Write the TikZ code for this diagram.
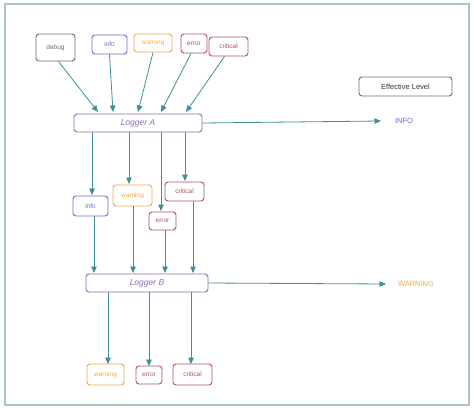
\documentclass[tikz,border=0pt]{standalone}
\usepackage{fontspec}
\setmainfont{Liberation Sans}
\usetikzlibrary{arrows.meta,calc}
\definecolor{arrc}{HTML}{3F8F99}
\definecolor{framec}{HTML}{A9C6CB}
\definecolor{greyc}{HTML}{6A6A6A}
\definecolor{infoc}{HTML}{6E6AD2}
\definecolor{warnc}{HTML}{F0AA45}
\definecolor{errc}{HTML}{B0506C}
\definecolor{logc}{HTML}{8C6CBA}
\definecolor{effc}{HTML}{55767C}
\begin{document}
\begin{tikzpicture}[x=1pt,y=-1pt,
 box/.style={draw, rounded corners=3pt, line width=0.9pt, inner sep=0pt, font=\fontsize{6.5}{8}\selectfont},
 dbg/.style={box, draw=greyc, text=greyc},
 inf/.style={box, draw=infoc, text=infoc},
 wrn/.style={box, draw=warnc, text=warnc},
 err/.style={box, draw=errc, text=errc},
 crit/.style={box, draw=errc, text=errc},
 lgr/.style={box, draw=logc, text=logc, font=\fontsize{8.5}{10}\selectfont\itshape},
 arr/.style={draw=arrc, line width=0.8pt, -{Triangle[length=6.5pt,width=5.5pt]}},
 lbl/.style={font=\fontsize{7.5}{9}\selectfont}]
\useasboundingbox (0,0) rectangle (474,412);
\draw[framec, line width=1.6pt] (5,4) rectangle (469,405);

% top level nodes
\node[dbg, minimum width=39pt, minimum height=27pt] (debug) at (55.5,47.5) {debug};
\node[inf, minimum width=35pt, minimum height=19pt] (info) at (109.5,44.5) {info};
\node[wrn, minimum width=38pt, minimum height=18pt] (warn) at (153,43) {warning};
\node[err, minimum width=26pt, minimum height=19pt] (err) at (194,43.5) {error};
\node[crit, minimum width=39pt, minimum height=19pt] (crit) at (228.5,46.5) {critical};

\node[lgr, minimum width=128pt, minimum height=18pt] (la) at (138,123) {Logger A};

\coordinate (a1) at (98,112);
\coordinate (a2) at (113,112);
\coordinate (a3) at (138,112);
\coordinate (a4) at (161,112);
\coordinate (a5) at (186,112);
\draw[arr] ($(debug.south)+(3,0)$) -- (a1);
\draw[arr] (info.south) -- (a2);
\draw[arr] (warn.south) -- (a3);
\draw[arr] ($(err.south)+(-3,0)$) -- (a4);
\draw[arr] ($(crit.south)+(-4,0)$) -- (a5);

% effective level
\node[box, draw=effc, text=black!80, font=\fontsize{7.5}{9}\selectfont, minimum width=93pt, minimum height=19pt] (eff) at (405.5,86.5) {Effective Level};

\coordinate (iA) at (381,121);
\draw[arr] (la.east) -- (iA);
\node[lbl, text=infoc] (infoA) at (404,121) {INFO};

% middle nodes
\node[inf, minimum width=35pt, minimum height=20pt] (info2) at (90.5,206) {info};
\node[wrn, minimum width=39pt, minimum height=21pt] (warn2) at (132.5,195.5) {warning};
\node[err, minimum width=27pt, minimum height=18pt] (err2) at (162.5,221) {error};
\node[crit, minimum width=39pt, minimum height=19pt] (crit2) at (184.5,191.5) {critical};

\coordinate (t1) at (92,195);
\coordinate (t2) at (129,184);
\coordinate (t3) at (161,211);
\coordinate (t4) at (185,181);
\draw[arr] (la.south -| t1) -- (t1);
\draw[arr] (la.south -| t2) -- (t2);
\draw[arr] (la.south -| t3) -- (t3);
\draw[arr] (la.south -| t4) -- (t4);

\node[lgr, minimum width=122pt, minimum height=18pt] (lb) at (147,283) {Logger B};

\coordinate (u1) at (94,273);
\coordinate (u2) at (133,273);
\coordinate (u3) at (165,273);
\coordinate (u4) at (193,273);
\draw[arr] (info2.south -| u1) -- (u1);
\draw[arr] (warn2.south -| u2) -- (u2);
\draw[arr] (err2.south -| u3) -- (u3);
\draw[arr] (crit2.south -| u4) -- (u4);

\coordinate (wB) at (386,284);
\draw[arr] (lb.east) -- (wB);
\node[lbl, text=warnc] (warnB) at (416,284) {WARNING};

% bottom nodes
\node[wrn, minimum width=37pt, minimum height=21pt] (warn3) at (105.5,374.5) {warning};
\node[err, minimum width=26pt, minimum height=18pt] (err3) at (149,375) {error};
\node[crit, minimum width=39pt, minimum height=21pt] (crit3) at (192.5,374.5) {critical};

\coordinate (v1) at (108,364);
\coordinate (v2) at (149,366);
\coordinate (v3) at (191,364);
\draw[arr] (lb.south -| v1) -- (v1);
\draw[arr] (lb.south -| v2) -- (v2);
\draw[arr] (lb.south -| v3) -- (v3);
\end{tikzpicture}
\end{document}
